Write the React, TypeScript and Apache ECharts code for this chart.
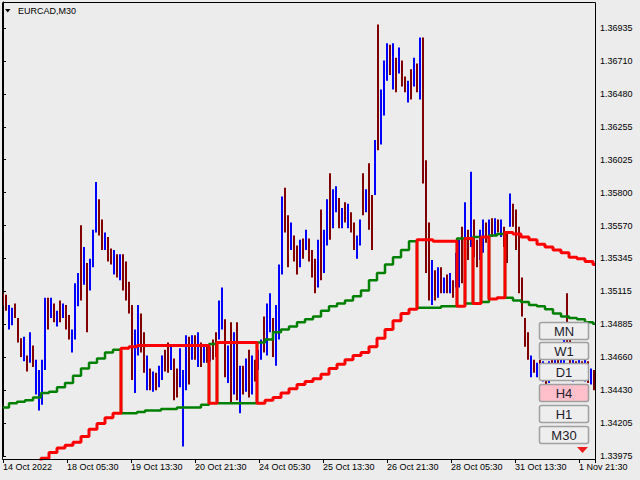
import React, { useEffect, useRef } from 'react';
import * as echarts from 'echarts';

// ---------- data ----------
const symbolTitle = 'EURCAD,M30';
const xLabels = ['14 Oct 2022', '18 Oct 05:30', '19 Oct 13:30', '20 Oct 21:30', '24 Oct 05:30', '25 Oct 13:30', '26 Oct 21:30', '28 Oct 05:30', '31 Oct 13:30', '1 Nov 21:30'];
const yLabels = ['1.33975', '1.34205', '1.34430', '1.34660', '1.34885', '1.35115', '1.35345', '1.35570', '1.35800', '1.36025', '1.36255', '1.36480', '1.36710', '1.36935'];
const yFirstTick = 1.33975;
const yLastTick = 1.36935;

// price bars (each bar spans 3 M30 periods): high, low, direction (b = up / blue, r = down / dark red)
const candleHigh = [
  1.3510, 1.3509, 1.3502, 1.3500, 1.3503, 1.3493, 1.3479, 1.3480, 1.3467, 1.3483,
  1.3474, 1.3464, 1.3457, 1.3464, 1.3507, 1.3507, 1.3507, 1.3503, 1.3498, 1.3505,
  1.3503, 1.3502, 1.3495, 1.3485, 1.3517, 1.3524, 1.3557, 1.3542, 1.3531, 1.3534,
  1.3554, 1.3587, 1.3575, 1.3561, 1.3552, 1.3549, 1.3541, 1.3540, 1.3537, 1.3537,
  1.3537, 1.3532, 1.3518, 1.3502, 1.3485, 1.3502, 1.3496, 1.3483, 1.3467, 1.3458,
  1.3456, 1.3455, 1.3460, 1.3467, 1.3471, 1.3476, 1.3474, 1.3465, 1.3458, 1.3472,
  1.3457, 1.3481, 1.3480, 1.3481, 1.3481, 1.3483, 1.3476, 1.3475, 1.3473, 1.3473,
  1.3478, 1.3483, 1.3505, 1.3514, 1.3492, 1.3474, 1.3490, 1.3483, 1.3490, 1.3460,
  1.3460, 1.3465, 1.3471, 1.3467, 1.3464, 1.3471, 1.3478, 1.3494, 1.3503, 1.3510,
  1.3493, 1.3502, 1.3530, 1.3577, 1.3583, 1.3564, 1.3559, 1.3550, 1.3543, 1.3547,
  1.3548, 1.3554, 1.3548, 1.3540, 1.3534, 1.3547, 1.3568, 1.3554, 1.3575, 1.3593,
  1.3582, 1.3584, 1.3576, 1.3569, 1.3573, 1.3572, 1.3566, 1.3559, 1.3550, 1.3561,
  1.3593, 1.3582, 1.3600, 1.3578, 1.3616, 1.3696, 1.3651, 1.3671, 1.3683, 1.3682,
  1.3683, 1.3673, 1.3680, 1.3671, 1.3660, 1.3657, 1.3665, 1.3673, 1.3669, 1.3687,
  1.3687, 1.3602, 1.3559, 1.3533, 1.3526, 1.3528, 1.3528, 1.3521, 1.3523, 1.3524,
  1.3519, 1.3538, 1.3547, 1.3556, 1.3573, 1.3554, 1.3594, 1.3561, 1.3547, 1.3554,
  1.3561, 1.3559, 1.3561, 1.3562, 1.3562, 1.3561, 1.3561, 1.3556, 1.3552, 1.3579,
  1.3572, 1.3568, 1.3556, 1.3521, 1.3493, 1.3483, 1.3467, 1.3464, 1.3462, 1.3464,
  1.3463, 1.3460, 1.3463, 1.3464, 1.3465, 1.3464, 1.3467, 1.3478, 1.3510, 1.3478,
  1.3464, 1.3463, 1.3464, 1.3463, 1.3464, 1.3463, 1.3458, 1.3457,
];
const candleLow = [
  1.3502, 1.3498, 1.3485, 1.3488, 1.3493, 1.3476, 1.3466, 1.3463, 1.3456, 1.3462,
  1.3459, 1.3440, 1.3429, 1.3433, 1.3457, 1.3485, 1.3493, 1.3490, 1.3487, 1.3490,
  1.3493, 1.3485, 1.3478, 1.3469, 1.3478, 1.3501, 1.3505, 1.3516, 1.3483, 1.3512,
  1.3528, 1.3552, 1.3550, 1.3540, 1.3540, 1.3532, 1.3530, 1.3523, 1.3521, 1.3519,
  1.3512, 1.3505, 1.3496, 1.3450, 1.3441, 1.3467, 1.3469, 1.3455, 1.3443, 1.3443,
  1.3442, 1.3443, 1.3445, 1.3450, 1.3456, 1.3455, 1.3457, 1.3436, 1.3438, 1.3445,
  1.3404, 1.3443, 1.3447, 1.3464, 1.3464, 1.3459, 1.3459, 1.3462, 1.3462, 1.3463,
  1.3464, 1.3466, 1.3478, 1.3485, 1.3452, 1.3448, 1.3434, 1.3440, 1.3436, 1.3427,
  1.3440, 1.3442, 1.3438, 1.3440, 1.3449, 1.3457, 1.3464, 1.3469, 1.3467, 1.3483,
  1.3466, 1.3460, 1.3478, 1.3523, 1.3552, 1.3528, 1.3540, 1.3532, 1.3523, 1.3528,
  1.3534, 1.3540, 1.3532, 1.3521, 1.3510, 1.3514, 1.3519, 1.3524, 1.3543, 1.3547,
  1.3555, 1.3566, 1.3555, 1.3555, 1.3559, 1.3555, 1.3552, 1.3540, 1.3534, 1.3543,
  1.3564, 1.3566, 1.3554, 1.3540, 1.3578, 1.3609, 1.3613, 1.3633, 1.3657, 1.3661,
  1.3651, 1.3649, 1.3662, 1.3653, 1.3649, 1.3642, 1.3644, 1.3653, 1.3649, 1.3644,
  1.3586, 1.3524, 1.3505, 1.3502, 1.3505, 1.3507, 1.3510, 1.3510, 1.3510, 1.3510,
  1.3507, 1.3514, 1.3514, 1.3517, 1.3545, 1.3533, 1.3542, 1.3535, 1.3528, 1.3533,
  1.3538, 1.3545, 1.3547, 1.3549, 1.3550, 1.3552, 1.3549, 1.3542, 1.3531, 1.3556,
  1.3556, 1.3540, 1.3510, 1.3494, 1.3473, 1.3464, 1.3452, 1.3455, 1.3452, 1.3450,
  1.3449, 1.3447, 1.3448, 1.3451, 1.3450, 1.3450, 1.3451, 1.3456, 1.3474, 1.3454,
  1.3449, 1.3450, 1.3451, 1.3450, 1.3449, 1.3448, 1.3447, 1.3443,
];
const candleDir =
  'rrbbrrrbrb' + 'rbbbbrbrbr' + 'brrbbbrbrb' + 'bbrrbrrbrb' + 'rrrrbbrrbr' +
  'brbbrrbrrb' + 'bbrbrbrbrb' + 'rrbbrbrbrb' + 'rbrbrbbrbb' + 'rbbbrrbrrb' +
  'rbrrrbrbbr' + 'bbrbrbrrbb' + 'rbrrbrbbbr' + 'brbrrbrbrb' + 'rrrbrbrbrb' +
  'rbbrbrbrrb' + 'brbrbrbrrb' + 'rrrrrrbrbr' + 'brbrbrbbrr' + 'brbrbrbr';

// H4 channel (one value per H4 period)
const upperBand = [
  1.3431, 1.3434, 1.3435, 1.3436, 1.3438, 1.3441, 1.3442, 1.3445, 1.3448, 1.3453, 1.3458, 1.3462, 1.3465, 1.3469, 1.3471,
  1.3472, 1.3473, 1.3474, 1.3474, 1.3474, 1.3474, 1.3474, 1.3474, 1.3474, 1.3474, 1.3474,
  1.3475, 1.3476, 1.3476, 1.3476, 1.3476, 1.3476,
  1.3476, 1.3478, 1.3483, 1.3485, 1.3487, 1.3490, 1.3492, 1.3494, 1.3498,
  1.3501, 1.3503, 1.3505, 1.3508, 1.3512, 1.3519, 1.3524, 1.3530, 1.3535, 1.3540, 1.3546,
  1.3547, 1.3547, 1.3546, 1.3546, 1.3546, 1.3548, 1.3548, 1.3549, 1.3549, 1.3550, 1.3551,
  1.3552, 1.3551, 1.3549, 1.3547, 1.3544, 1.3542, 1.3540, 1.3538, 1.3535, 1.3534, 1.3532, 1.3530,
];
const lowerBand = [
  1.3381, 1.3384, 1.3386, 1.3389, 1.3393, 1.3396, 1.3400, 1.3403, 1.3405, 1.3407, 1.3411, 1.3416, 1.3420, 1.3424, 1.3427,
  1.3427, 1.3427, 1.3428, 1.3429, 1.3429, 1.3430, 1.3430, 1.3431, 1.3431, 1.3431, 1.3433,
  1.3434, 1.3434, 1.3434, 1.3434, 1.3434, 1.3434,
  1.3434, 1.3436, 1.3438, 1.3441, 1.3444, 1.3447, 1.3449, 1.3451, 1.3454,
  1.3458, 1.3461, 1.3464, 1.3467, 1.3469, 1.3473, 1.3479, 1.3485, 1.3491, 1.3496, 1.3499,
  1.3500, 1.3500, 1.3500, 1.3501, 1.3501, 1.3501, 1.3503, 1.3503, 1.3504, 1.3506, 1.3507,
  1.3507, 1.3505, 1.3504, 1.3502, 1.3501, 1.3499, 1.3496, 1.3494, 1.3493, 1.3492, 1.3490, 1.3489,
];
// 1 = red line is the upper band in that H4 period, 0 = green line is upper
const redOnTop =
  '000000000000000' + '11111111111' + '0' + '11111' + '00000000000000000000' +
  '11111' + '0' + '1' + '0' + '1' + '00' + '111111111111';

const timeframeButtons = ['MN', 'W1', 'D1', 'H4', 'H1', 'M30'];
const activeTimeframe = 'H4';

// ---------- layout / style ----------
const BG = '#ececec';
const FONT = 'Liberation Sans';
const UP_COLOR = '#0000ff';
const DOWN_COLOR = '#800000';
const BARS_PER_CANDLE = 3;
const BARS_PER_H4 = 8;
const H4_PHASE = -1;
const X_MAX = 593; // M30 periods across the plot
const PX_BETWEEN_TICKS = 428 / 13;
const Y_STEP = (yLastTick - yFirstTick) / (yLabels.length - 1);
const UNIT_PER_PX = Y_STEP / PX_BETWEEN_TICKS;
const Y_MAX = yFirstTick + 454 * UNIT_PER_PX;
const Y_MIN_DATA = yFirstTick - 3 * UNIT_PER_PX;

export default function App() {
  const ref = useRef<HTMLDivElement>(null);

  useEffect(() => {
    if (!ref.current) return;
    const chart = echarts.init(ref.current, null, { renderer: 'svg' });

    const candles = candleHigh.map((h, i) => [
      i * BARS_PER_CANDLE + 1,
      candleLow[i],
      h,
      candleDir[i] === 'b' ? 1 : 0,
    ]);

    const stepLine = (pick: (k: number) => number) => {
      const pts: number[][] = [];
      for (let k = 0; k < upperBand.length; k++) {
        const x0 = Math.max(0, BARS_PER_H4 * k + H4_PHASE);
        const x1 = Math.min(X_MAX, BARS_PER_H4 * (k + 1) + H4_PHASE);
        if (x0 >= X_MAX) break;
        const v = pick(k);
        pts.push([x0, v], [x1, v]);
      }
      return pts;
    };
    const redLine = stepLine((k) => (redOnTop[k] === '1' ? upperBand[k] : lowerBand[k]));
    const greenLine = stepLine((k) => (redOnTop[k] === '1' ? lowerBand[k] : upperBand[k]));

    const btnTops = [322, 342, 363, 384, 405, 426];
    const graphics: any[] = [
      {
        type: 'rect',
        shape: { x: 2.5, y: 2.5, width: 593, height: 457 },
        style: { fill: 'none', stroke: '#000', lineWidth: 1 },
        silent: true,
        z: 50,
      },
      {
        type: 'polygon',
        shape: { points: [[5, 9], [10.5, 9], [7.75, 12.5]] },
        style: { fill: '#000' },
        z: 60,
      },
      {
        type: 'text',
        x: 18,
        y: 10.5,
        style: {
          text: symbolTitle,
          fill: '#000',
          font: `9px ${FONT}`,
          textAlign: 'left',
          textVerticalAlign: 'middle',
        },
        z: 60,
      },
      {
        type: 'polygon',
        shape: { points: [[577, 447], [588, 447], [582.5, 453]] },
        style: { fill: '#ee1c1c' },
        z: 60,
      },
    ];
    timeframeButtons.forEach((b, i) => {
      graphics.push({
        type: 'rect',
        shape: { x: 539.5, y: btnTops[i] + 0.5, width: 49, height: 17, r: 2 },
        style: {
          fill: b === activeTimeframe ? '#ffc0cb' : '#eeeeee',
          stroke: '#a0a0a0',
          lineWidth: 1.5,
        },
        z: 70,
      });
      graphics.push({
        type: 'text',
        x: 564,
        y: btnTops[i] + 9,
        style: {
          text: b,
          fill: '#1c1c2c',
          font: `13px ${FONT}`,
          textAlign: 'center',
          textVerticalAlign: 'middle',
        },
        z: 71,
      });
    });

    const yFmt = (v: number) => {
      const idx = Math.round((v - yFirstTick) / Y_STEP);
      if (idx < 0 || idx >= yLabels.length) return '';
      if (Math.abs(v - (yFirstTick + idx * Y_STEP)) > Y_STEP * 0.01) return '';
      return yLabels[idx];
    };
    const xFmt = (v: number) => {
      const idx = Math.round(v / 64);
      if (Math.abs(v - idx * 64) > 0.01 || idx >= xLabels.length) return '';
      return xLabels[idx];
    };

    chart.setOption({
      animation: false,
      backgroundColor: BG,
      textStyle: { fontFamily: FONT },
      grid: [
        { left: 2, top: 2, width: 593, height: 457, containLabel: false, outerBoundsMode: 'none' },
        { left: 3, top: 2, width: 592, height: 454, containLabel: false, outerBoundsMode: 'none' },
      ],
      xAxis: [
        { type: 'value', gridIndex: 0, min: 0, max: X_MAX, show: false },
        {
          type: 'value',
          gridIndex: 1,
          min: 0,
          max: 592,
          interval: 64,
          position: 'bottom',
          offset: 3,
          axisLine: { show: true, lineStyle: { color: '#000', width: 1 } },
          axisTick: { show: true, length: 4, inside: false, lineStyle: { color: '#000' } },
          splitLine: { show: false },
          axisLabel: {
            show: true,
            formatter: xFmt,
            align: 'left',
            margin: 3,
            color: '#000',
            fontSize: 9,
            fontFamily: FONT,
            showMinLabel: true,
            showMaxLabel: true,
            hideOverlap: false,
          },
        },
      ],
      yAxis: [
        { type: 'value', gridIndex: 0, min: Y_MIN_DATA, max: Y_MAX, show: false },
        {
          type: 'value',
          gridIndex: 1,
          position: 'right',
          min: yFirstTick,
          max: Y_MAX,
          interval: Y_STEP,
          axisLine: { show: true, lineStyle: { color: '#000', width: 1 } },
          axisTick: { show: true, length: 3, inside: false, lineStyle: { color: '#000' } },
          splitLine: { show: false },
          axisLabel: {
            show: true,
            formatter: yFmt,
            margin: 5,
            color: '#000',
            fontSize: 9,
            fontFamily: FONT,
            showMinLabel: true,
            showMaxLabel: true,
            hideOverlap: false,
          },
        },
      ],
      series: [
        {
          type: 'custom',
          name: 'EURCAD',
          xAxisIndex: 0,
          yAxisIndex: 0,
          clip: true,
          data: candles,
          encode: { x: 0, y: [1, 2] },
          renderItem: (params: any, api: any) => {
            const x = api.value(0);
            const lo = api.value(1);
            const hi = api.value(2);
            const up = api.value(3);
            const pHi = api.coord([x, hi]);
            const pLo = api.coord([x, lo]);
            return {
              type: 'rect',
              shape: {
                x: Math.round(pHi[0]) - 1,
                y: pHi[1],
                width: 2,
                height: Math.max(1, pLo[1] - pHi[1]),
              },
              style: { fill: up ? UP_COLOR : DOWN_COLOR },
            };
          },
          z: 2,
        },
        {
          type: 'line',
          name: 'green',
          xAxisIndex: 0,
          yAxisIndex: 0,
          data: greenLine,
          showSymbol: false,
          symbol: 'none',
          clip: true,
          lineStyle: { color: '#008000', width: 2.5 },
          z: 3,
        },
        {
          type: 'line',
          name: 'red',
          xAxisIndex: 0,
          yAxisIndex: 0,
          data: redLine,
          showSymbol: false,
          symbol: 'none',
          clip: true,
          lineStyle: { color: '#ff0000', width: 3 },
          z: 4,
        },
      ],
      graphic: { elements: graphics },
    });

    return () => {
      chart.dispose();
    };
  }, []);

  return (
    <div
      ref={ref}
      style={{ position: 'fixed', left: 0, top: 0, width: 640, height: 480, background: BG }}
    />
  );
}
